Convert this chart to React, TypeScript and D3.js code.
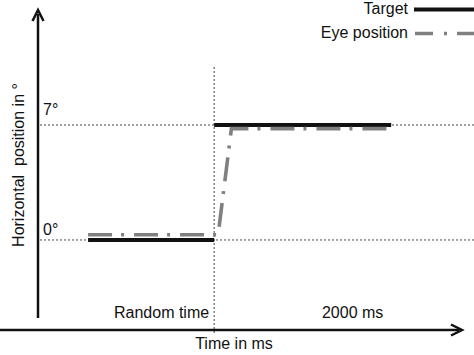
import React from "react";
import * as d3 from "d3";

// Time in ms relative to target step; position in degrees
const targetLowTimes = [-1424, 0];
const targetLowValues = [0, 0];
const targetHighTimes = [0, 2000];
const targetHighValues = [7, 7];
const eyeTimes = [-1424, 45, 195, 2000];
const eyeValues = [0.32, 0.32, 6.78, 6.78];
const yTickValues = [0, 7];
const yTickLabels = ["0°", "7°"];
const stepTime = 0;
const phaseLabels = ["Random time", "2000 ms"];

const W = 474;
const H = 355;
const FONT = "'Liberation Sans', Arial, Helvetica, sans-serif";

export default function App() {
  const x = d3.scaleLinear().domain([-1990, 2800]).range([38, 462]);
  const y = d3.scaleLinear().domain([-5.48, 13.94]).range([330, 11]);

  const line = d3
    .line<[number, number]>()
    .x((d) => x(d[0]))
    .y((d) => y(d[1]));

  const zip = (a: number[], b: number[]) => a.map((t, i) => [t, b[i]] as [number, number]);

  const axisX = 38;
  const axisY = 330;
  const xStep = x(stepTime);

  return (
    <svg
      width={W}
      height={H}
      style={{ position: "absolute", left: 0, top: 0, background: "#fff" }}
      fontFamily={FONT}
    >
      {/* dotted reference lines */}
      {yTickValues.map((v) => (
        <line
          key={"h" + v}
          x1={axisX + 2}
          x2={W}
          y1={y(v)}
          y2={y(v)}
          stroke="#444"
          strokeWidth={1}
          strokeDasharray="2,2"
        />
      ))}
      <line
        x1={xStep}
        x2={xStep}
        y1={67}
        y2={axisY + 4}
        stroke="#444"
        strokeWidth={1}
        strokeDasharray="2,2"
      />

      {/* target */}
      <path d={line(zip(targetLowTimes, targetLowValues)) || ""} stroke="#111" strokeWidth={4} fill="none" />
      <path d={line(zip(targetHighTimes, targetHighValues)) || ""} stroke="#111" strokeWidth={4} fill="none" />

      {/* eye */}
      <path
        d={line(zip(eyeTimes, eyeValues)) || ""}
        stroke="#808080"
        strokeWidth={3.6}
        fill="none"
        strokeDasharray="24,9,3,10"
      />

      {/* axes */}
      <line x1={axisX} x2={axisX} y1={318} y2={14} stroke="#111" strokeWidth={2.5} />
      <path d={`M${axisX - 5.5},${21} L${axisX},${10} L${axisX + 5.5},${21}`} stroke="#111" strokeWidth={2.5} fill="none" />
      <line x1={0} x2={459} y1={axisY} y2={axisY} stroke="#111" strokeWidth={2.5} />
      <path d={`M${451},${axisY - 5.5} L${462},${axisY} L${451},${axisY + 5.5}`} stroke="#111" strokeWidth={2.5} fill="none" />

      {/* tick labels */}
      {yTickValues.map((v, i) => (
        <text key={"t" + v} x={43} y={y(v) - (v === 0 ? 5 : 10)} fontSize={16} fill="#111">
          {yTickLabels[i]}
        </text>
      ))}

      {/* phase labels */}
      <text x={xStep - 5} y={318} fontSize={16} textAnchor="end" fill="#111">
        {phaseLabels[0]}
      </text>
      <text x={(x(0) + x(2000)) / 2 + 50} y={318} fontSize={16} textAnchor="middle" fill="#111">
        {phaseLabels[1]}
      </text>

      {/* axis titles */}
      <text x={234} y={349} fontSize={16} textAnchor="middle" fill="#111">
        Time in ms
      </text>
      <text
        transform={`translate(24,${165}) rotate(-90)`}
        fontSize={16}
        textAnchor="middle"
        fill="#111"
        style={{ whiteSpace: "pre" }}
      >
        {"Horizontal  position in °"}
      </text>

      {/* legend */}
      <text x={408} y={14} fontSize={16} textAnchor="end" fill="#111">
        Target
      </text>
      <line x1={414} x2={474} y1={9.5} y2={9.5} stroke="#111" strokeWidth={4} />
      <text x={408} y={38} fontSize={16} textAnchor="end" fill="#111">
        Eye position
      </text>
      <line x1={415} x2={474} y1={33.5} y2={33.5} stroke="#808080" strokeWidth={3.6} strokeDasharray="18,11,3,10" />
    </svg>
  );
}
